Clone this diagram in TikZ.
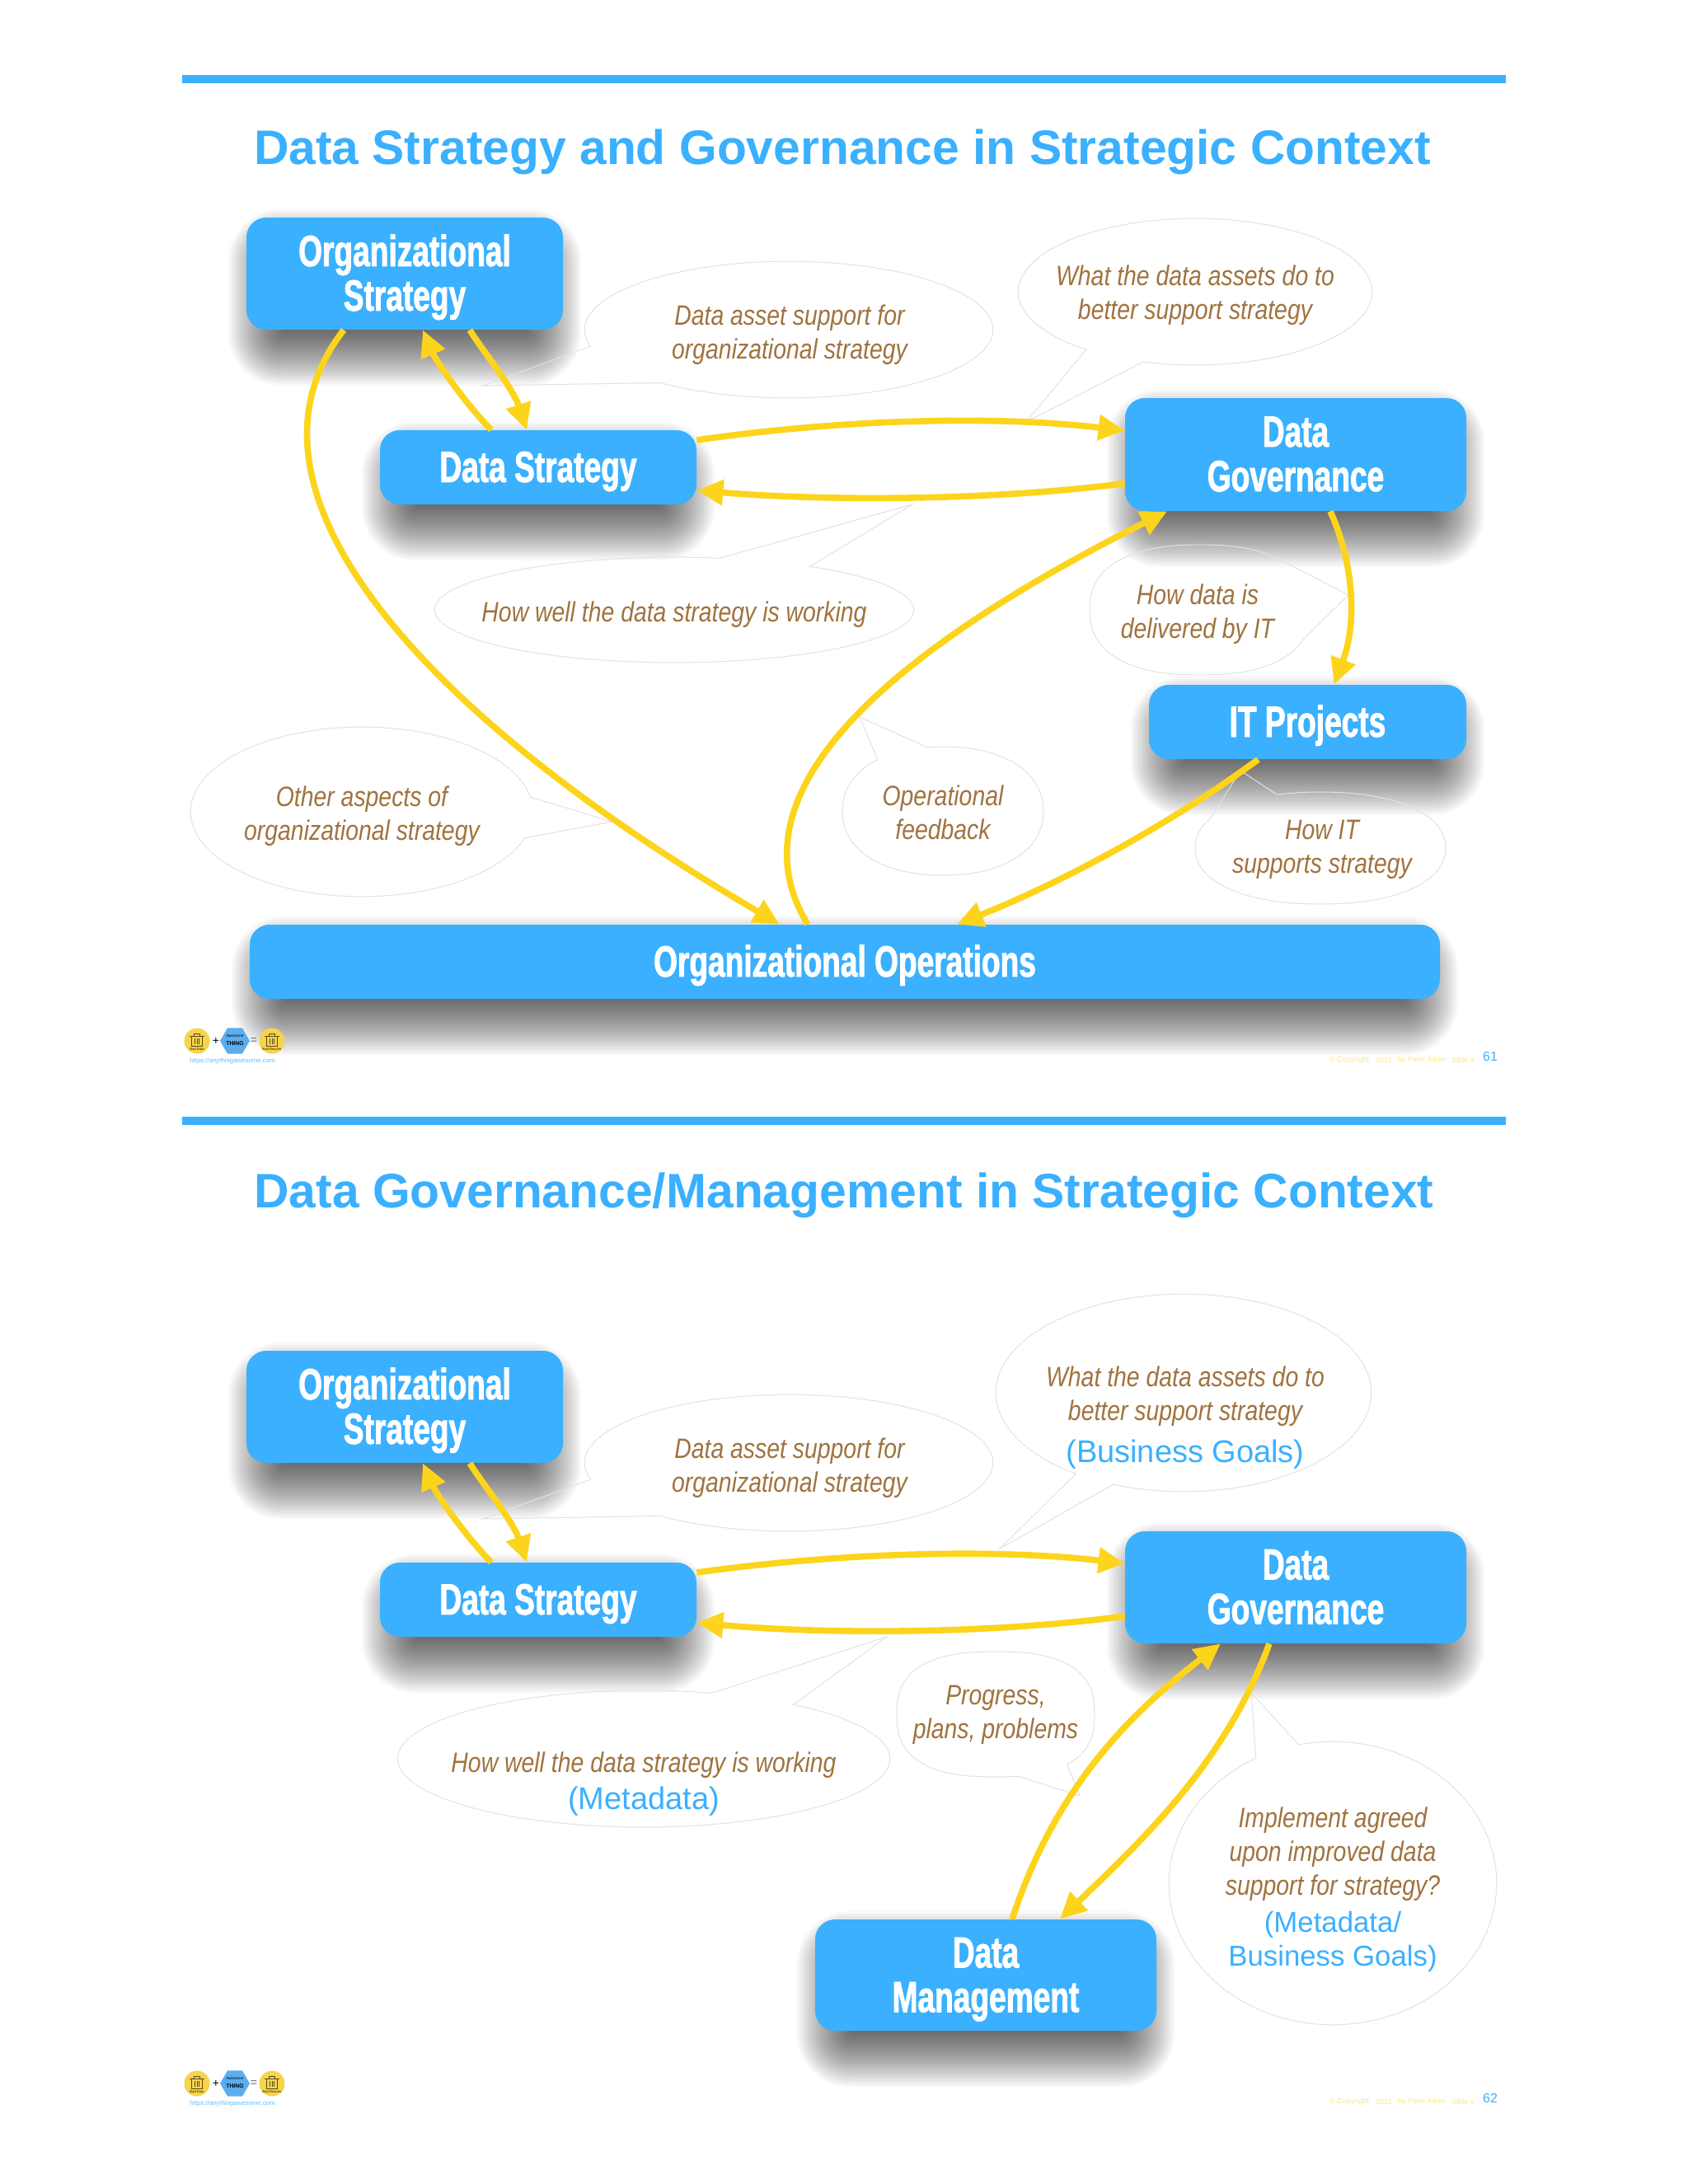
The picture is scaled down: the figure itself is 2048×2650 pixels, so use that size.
\documentclass[tikz,border=0pt]{standalone}
\usepackage{fontspec}
\usetikzlibrary{arrows.meta,calc,shapes.geometric}
\setmainfont{Liberation Sans}
\newfontfamily\boxfont{Liberation Sans Bold}[FakeStretch=0.70,FakeBold=1.6]
\newfontfamily\noteface{Liberation Sans}[FakeStretch=0.835]
\definecolor{skyb}{HTML}{3AB0FF}
\definecolor{flowy}{HTML}{FDD41C}
\definecolor{notebr}{HTML}{A0733F}
\definecolor{noteln}{HTML}{E2E2E2}
\definecolor{foot}{HTML}{FCE680}
\definecolor{logoy}{HTML}{F6D44C}
\definecolor{logok}{HTML}{5A4A1A}
\definecolor{hexb}{HTML}{5AAEF0}
\tikzset{
  bar/.style={fill=skyb},
  ttl/.style={text=skyb,font=\fontsize{29.4}{34}\selectfont\bfseries,inner sep=0pt},
  bluebox/.style={fill=skyb,text=white,rounded corners=12pt,inner sep=0pt,align=center,
    font=\boxfont\fontsize{26.5}{27}\selectfont},
  flow/.style={draw=flowy,line width=3.8pt,-{Triangle[length=16pt,width=15pt]}},
  bub/.style={draw=noteln,line width=.5pt},
  note/.style={text=notebr,inner sep=0pt,align=center,
    font=\noteface\fontsize{17}{20.5}\selectfont\itshape},
  footy/.style={text=foot,inner sep=0pt,font=\fontsize{4.5}{5}\selectfont},
}
\newcommand\bl[1]{{\color{skyb}\upshape\setmainfont{Liberation Sans}\fontsize{19}{22}\selectfont #1}}
\newcommand\blb[1]{{\color{skyb}\upshape\setmainfont{Liberation Sans}\fontsize{17.4}{20.5}\selectfont #1}}
\newcommand\softshadow[4]{%
  \foreach \e in {40,37.5,...,-28}{%
    \pgfmathsetmacro\rr{max(4,24+\e)*.5}%
    \fill[black,opacity=.027,rounded corners=\rr pt] ({#1+18-\e},{#2+30-\e}) rectangle ({#3-18+\e},{#4+28+\e});
  }}
% name x0 y0 x1 y1 text
\newcommand\bbox[6]{%
  \softshadow{#2}{#3}{#4}{#5}%
  \pgfmathsetmacro\ww{(#4-#2)*.5}\pgfmathsetmacro\hh{(#5-#3)*.5}%
  \node[bluebox,minimum width=\ww pt,minimum height=\hh pt] (#1) at ({(#2+#4)/2},{(#3+#5)/2}) {\rule{0pt}{23.5pt}#6};
}
% cx cy rx ry a1 a2 tipx tipy p
\newcommand\callout[9]{%
  \draw[bub] plot[smooth,domain=#5:#6,samples=70,variable=\t]
   ({#1+#3*cos(\t)/((abs(cos(\t))+.001)^#9+(abs(sin(\t))+.001)^#9)^(1/#9)},
    {#2+#4*sin(\t)/((abs(cos(\t))+.001)^#9+(abs(sin(\t))+.001)^#9)^(1/#9)}) -- (#7,#8) -- cycle;
}
\newcommand\trash[3]{%
  \fill[logoy] (#1,#2) circle[radius=15.5];
  \draw[logok,line width=.5pt] ({#1-6.5},{#2-6}) rectangle ({#1+6.5},{#2+6});
  \draw[logok,line width=.5pt] ({#1-9},{#2-6}) -- ({#1+9},{#2-6});
  \draw[logok,line width=.5pt] ({#1-3.5},{#2-6}) -- ({#1-3.5},{#2-8.5}) -- ({#1+3.5},{#2-8.5}) -- ({#1+3.5},{#2-6});
  \draw[logok,line width=.4pt] ({#1-2.5},{#2-3}) -- ({#1-2.5},{#2+3.5}) ({#1},{#2-3}) -- ({#1},{#2+3.5}) ({#1+2.5},{#2-3}) -- ({#1+2.5},{#2+3.5});
  \node[text=logok,inner sep=0pt,font=\fontsize{2}{2}\selectfont\bfseries] at (#1,{#2+10}) {#3};
}
\newcommand\logoset[2]{%
  \trash{239}{#1}{Bad Data}
  \node[inner sep=0pt,font=\fontsize{7}{7}\selectfont] (plus#2) at (262,#1) {+};
  \node[regular polygon,regular polygon sides=6,fill=hexb,minimum size=18pt,inner sep=0pt] (hex#2) at (285,#1) {};
  \node[inner sep=0pt,font=\fontsize{2.4}{2.4}\selectfont\itshape] (awe#2) at (285,{#1-6}) {Awesome};
  \node[inner sep=0pt,font=\fontsize{3.4}{3.4}\selectfont\bfseries] (thing#2) at (285,{#1+3}) {THING};
  \node[inner sep=0pt,text=black!60,font=\fontsize{7}{7}\selectfont] (eq#2) at (308,#1) {=};
  \trash{330}{#1}{Bad Results}
  \node[inner sep=0pt,text=skyb!80,font=\fontsize{3.9}{5}\selectfont] (url#2) at (282,{#1+24}) {https://anythingawesome.com};
}
\newcommand\footset[3]{%
  \node[footy] (fa#3) at (1637,#1) {© Copyright};
  \node[footy] (fb#3) at (1679,#1) {2021};
  \node[footy] (fc#3) at (1725,#1) {by Peter Aiken};
  \node[footy] (fd#3) at (1775,#1) {Slide \#};
  \node[inner sep=0pt,text=skyb,font=\fontsize{8}{8}\selectfont] (fe#3) at (1808,{#1-4}) {#2};
}
\begin{document}
\begin{tikzpicture}[x=.5pt,y=-.5pt]
\useasboundingbox (0,0) rectangle (2048,2650);
\fill[white] (0,0) rectangle (2048,2650);
% ------------- slide 1
\fill[bar] (221,91) rectangle (1827,101);
\node[ttl] (t1) at (1022,184) {Data Strategy and Governance in Strategic Context};
\bbox{os}{299}{264}{683}{400}{Organizational\\Strategy}
\bbox{ds}{461}{522}{845}{612}{Data Strategy}
\bbox{dg}{1365}{483}{1779}{620}{Data\\Governance\rule[-6pt]{0pt}{6pt}}
\bbox{it}{1394}{831}{1779}{921}{IT Projects}
\bbox{oo}{303}{1122}{1747}{1212}{Organizational Operations}
\callout{957}{400}{248}{83}{166}{489}{586}{468}{2}
\callout{1450}{354}{215}{89}{128}{467}{1245}{512}{2}
\callout{818}{740}{291}{64}{304.5}{641}{1107}{612}{2}
\callout{1456}{740}{134}{79}{26}{315}{1636}{722}{2.4}
\callout{1144}{984}{122}{78}{261}{591}{1043}{870}{2.2}
\callout{1602}{1029}{152}{68}{250}{571}{1505}{935}{2.2}
\callout{439}{985}{208}{103}{18}{350}{743}{997}{2}
\node[note] (n1) at (958,406) {Data asset support for\\organizational strategy};
\node[note] (n2) at (1450,358) {What the data assets do to\\better support strategy};
\node[note] (n3) at (818,746) {How well the data strategy is working};
\node[note] (n4) at (1453,745) {How data is\\delivered by IT};
\node[note] (n5) at (1144,986) {Operational\\feedback};
\node[note] (n6) at (1604,1031) {How IT\\supports strategy};
\node[note] (n7) at (439,990) {Other aspects of\\organizational strategy};
\draw[flow] ($(os.south)+(79,0)$) .. controls (585,425) and (622,470) .. ($(ds.north)+(-14,0)$);
\draw[flow] ($(ds.north)+(-57,0)$) .. controls (565,490) and (530,440) .. ($(os.south)+(22,0)$);
\draw[flow] ($(ds.east)+(0,-33)$) .. controls (1010,510) and (1200,503) .. ($(dg.west)+(0,-29)$);
\draw[flow] ($(dg.west)+(0,35)$) .. controls (1200,608) and (1000,608) .. ($(ds.east)+(0,28)$);
\draw[flow] ($(dg.south)+(42,0)$) .. controls (1645,690) and (1645,760) .. ($(it.north)+(32,0)$);
\draw[flow] ($(os.south)+(-74,0)$) .. controls (270,590) and (500,860) .. ($(oo.north)+(-79,0)$);
\draw[flow] ($(oo.north)+(-45,0)$) .. controls (912,1010) and (960,850) .. ($(dg.south)+(-156,0)$);
\draw[flow] ($(it.south)+(-60,0)$) .. controls (1420,1000) and (1290,1070) .. ($(oo.north)+(136,0)$);
\logoset{1263}{a}
\footset{1286}{61}{a}
% ------------- slide 2
\fill[bar] (221,1355) rectangle (1827,1365);
\node[ttl] (t2) at (1024,1450) {Data Governance/Management in Strategic Context};
\bbox{osb}{299}{1639}{683}{1775}{Organizational\\Strategy}
\bbox{dsb}{461}{1896}{845}{1986}{Data Strategy}
\bbox{dgb}{1365}{1858}{1779}{1994}{Data\\Governance\rule[-6pt]{0pt}{6pt}}
\bbox{dm}{989}{2329}{1403}{2464}{Data\\Management}
\callout{957}{1775}{248}{83}{166}{489}{586}{1843}{2}
\callout{1436}{1690}{228}{120}{125}{472}{1213}{1879}{2}
\callout{781}{2134}{299}{83}{307.5}{646}{1076}{1986}{2}
\callout{1208}{2080}{120}{76}{77}{408}{1310}{2179}{2.6}
\callout{1617}{2285}{199}{172}{258}{602}{1518}{2054}{2}
\node[note] (m1) at (958,1781) {Data asset support for\\organizational strategy};
\node[note] (m2) at (1438,1720) {What the data assets do to\\better support strategy\\[5pt]\bl{(Business Goals)}};
\node[note] (m3) at (781,2165) {How well the data strategy is working\\[2pt]\bl{(Metadata)}};
\node[note] (m4) at (1208,2081) {Progress,\\plans, problems};
\node[note] (m5) at (1617,2293) {Implement agreed\\upon improved data\\support for strategy?\\[2pt]\blb{(Metadata/}\\\blb{Business Goals)}};
\draw[flow] ($(osb.south)+(79,0)$) .. controls (585,1800) and (622,1845) .. ($(dsb.north)+(-14,0)$);
\draw[flow] ($(dsb.north)+(-57,0)$) .. controls (565,1864) and (530,1814) .. ($(osb.south)+(22,0)$);
\draw[flow] ($(dsb.east)+(0,-33)$) .. controls (1010,1885) and (1200,1878) .. ($(dgb.west)+(0,-29)$);
\draw[flow] ($(dgb.west)+(0,35)$) .. controls (1200,1983) and (1000,1983) .. ($(dsb.east)+(0,28)$);
\draw[flow] ($(dm.north)+(32,0)$) .. controls (1280,2170) and (1370,2080) .. ($(dgb.south)+(-91,0)$);
\draw[flow] ($(dgb.south)+(-32,0)$) .. controls (1490,2130) and (1400,2220) .. ($(dm.north)+(90,0)$);
\logoset{2528}{b}
\footset{2550}{62}{b}
\end{tikzpicture}
\end{document}
